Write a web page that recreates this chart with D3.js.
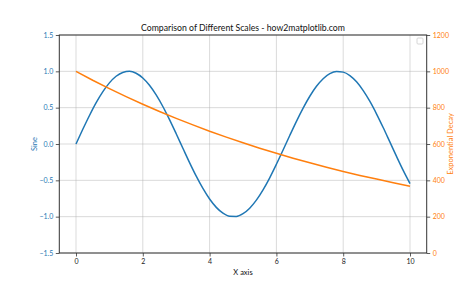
<!DOCTYPE html>
<html><head><meta charset="utf-8">
<script src="https://cdn.jsdelivr.net/npm/d3@7"></script>
<style>body{margin:0;background:#fff}svg{display:block}</style>
</head><body>
<script>
const sineX = [0,0.2,0.4,0.6,0.8,1.0,1.2,1.4,1.6,1.8,2.0,2.2,2.4,2.6,2.8,3.0,3.2,3.4,3.6,3.8,4.0,4.2,4.4,4.6,4.8,5.0,5.2,5.4,5.6,5.8,6.0,6.2,6.4,6.6,6.8,7.0,7.2,7.4,7.6,7.8,8.0,8.2,8.4,8.6,8.8,9.0,9.2,9.4,9.6,9.8,10.0];
const sineY = [0,0.199,0.389,0.565,0.717,0.841,0.932,0.985,1.000,0.974,0.909,0.808,0.675,0.516,0.335,0.141,-0.058,-0.256,-0.443,-0.612,-0.757,-0.872,-0.952,-0.994,-0.996,-0.959,-0.883,-0.773,-0.631,-0.465,-0.279,-0.083,0.117,0.312,0.494,0.657,0.794,0.899,0.968,0.999,0.989,0.941,0.855,0.734,0.585,0.412,0.223,0.025,-0.174,-0.366,-0.544];
const decayX = [0,0.5,1,1.5,2,2.5,3,3.5,4,4.5,5,5.5,6,6.5,7,7.5,8,8.5,9,9.5,10];
const decayY = [1000,951,905,861,819,779,741,705,670,638,607,577,549,522,497,472,449,427,407,387,368];
const xTicks = [0,2,4,6,8,10];
const leftTicks = [1.5,1.0,0.5,0.0,-0.5,-1.0,-1.5];
const rightTicks = [0,200,400,600,800,1000,1200];

const W=474,H=284;
const L=59.3,R=426.7,T=35,B=253;
const blue="#1f77b4", orange="#ff7f0e";
const font="Lato, 'Open Sans', sans-serif";

const svg=d3.select("body").append("svg").attr("width",W).attr("height",H).style("font-family",font);
const x=d3.scaleLinear().domain([-0.5,10.5]).range([L,R]);
const y1=d3.scaleLinear().domain([-1.5,1.5]).range([B,T]);
const y2=d3.scaleLinear().domain([0,1200]).range([B,T]);

// grid
svg.append("g").selectAll("line").data(xTicks).join("line")
  .attr("x1",d=>x(d)).attr("x2",d=>x(d)).attr("y1",T).attr("y2",B)
  .attr("stroke","#b0b0b0").attr("stroke-opacity",0.6).attr("stroke-width",0.8);
svg.append("g").selectAll("line").data(leftTicks).join("line")
  .attr("x1",L).attr("x2",R).attr("y1",d=>y1(d)).attr("y2",d=>y1(d))
  .attr("stroke","#b0b0b0").attr("stroke-opacity",0.6).attr("stroke-width",0.8);

// lines
const sineLine=d3.line().x((d,i)=>x(sineX[i])).y(d=>y1(d)).curve(d3.curveMonotoneX);
svg.append("path").datum(sineY).attr("d",sineLine).attr("fill","none").attr("stroke",blue).attr("stroke-width",1.5);
const decayLine=d3.line().x((d,i)=>x(decayX[i])).y(d=>y2(d));
svg.append("path").datum(decayY).attr("d",decayLine).attr("fill","none").attr("stroke",orange).attr("stroke-width",1.5);

// axes
function styleAxis(g,color){
  g.select(".domain").remove();
  g.selectAll(".tick line").attr("stroke","#333").attr("stroke-width",0.8);
  g.selectAll(".tick text").attr("fill",color).style("font-size","7px").style("font-family",font);
}
svg.append("g").attr("transform",`translate(0,${B})`)
  .call(d3.axisBottom(x).tickValues(xTicks).tickFormat(d3.format("d")).tickSize(3.5).tickPadding(2.5))
  .call(g=>styleAxis(g,"#222"));
svg.append("g").attr("transform",`translate(${L},0)`)
  .call(d3.axisLeft(y1).tickValues(leftTicks).tickFormat(d3.format(".1f")).tickSize(3.5).tickPadding(2.5))
  .call(g=>styleAxis(g,blue));
svg.append("g").attr("transform",`translate(${R},0)`)
  .call(d3.axisRight(y2).tickValues(rightTicks).tickFormat(d3.format("d")).tickSize(3.5).tickPadding(2.5))
  .call(g=>styleAxis(g,orange));

// spines
svg.append("rect").attr("x",L).attr("y",T).attr("width",R-L).attr("height",B-T)
  .attr("fill","none").attr("stroke","#333").attr("stroke-width",1);

// empty legend
svg.append("rect").attr("x",417).attr("y",38).attr("width",6).attr("height",6).attr("rx",1)
  .attr("fill","#fff").attr("stroke","#ccc").attr("stroke-width",0.8);

// labels
svg.append("text").attr("x",(L+R)/2).attr("y",31).attr("text-anchor","middle")
  .style("font-size","8.7px").attr("fill","#111").text("Comparison of Different Scales - how2matplotlib.com");
svg.append("text").attr("x",(L+R)/2).attr("y",275).attr("text-anchor","middle")
  .style("font-size","7.5px").attr("fill","#111").text("X axis");
svg.append("text").attr("transform",`translate(37,${(T+B)/2}) rotate(-90)`).attr("text-anchor","middle")
  .style("font-size","7.5px").attr("fill",blue).text("Sine");
svg.append("text").attr("transform",`translate(453,${(T+B)/2}) rotate(-90)`).attr("text-anchor","middle")
  .style("font-size","7.5px").attr("fill",orange).text("Exponential Decay");
</script>
</body></html>
